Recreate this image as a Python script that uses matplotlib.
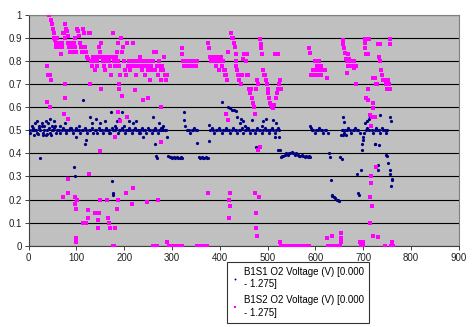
import numpy as np
import matplotlib
matplotlib.use("Agg")
import matplotlib.pyplot as plt

plt.rcParams['font.family'] = ['Liberation Sans', 'DejaVu Sans']

# B1S1 O2 Voltage (V)
b1s1_x = [
    # faixa 0.5 (0-290)
    0, 3, 6, 9, 12, 15, 18, 21, 24, 27,
    30, 33, 36, 39, 42, 45, 48, 51, 54, 57,
    60, 63, 66, 69, 72, 75, 78, 81, 84, 87,
    90, 93, 96, 99, 102, 105, 108, 111, 114, 117,
    120, 123, 126, 129, 132, 135, 138, 141, 144, 147,
    150, 153, 156, 159, 162, 165, 168, 171, 174, 177,
    180, 183, 186, 189, 192, 195, 198, 201, 204, 207,
    210, 213, 216, 219, 222, 225, 228, 231, 234, 237,
    240, 243, 246, 249, 252, 255, 258, 261, 264, 267,
    270, 273, 276, 279, 282, 285, 288,
    # pontos soltos
    8, 12, 14, 18, 20, 22, 24, 28, 30, 32,
    36, 38, 40, 44, 46, 48, 52, 56, 66, 75,
    82, 88, 95, 97, 98, 100, 105, 113, 118, 120,
    128, 132, 140, 150, 160, 168, 172, 174, 176, 177,
    180, 185, 190, 195, 200, 210, 218, 225, 232, 240,
    261, 262, 264, 266, 268, 272, 276, 282, 290,
    # 0.38
    292, 295, 298, 301, 304, 307, 310, 313, 316, 319, 322,
    325, 326, 328, 332, 335, 338, 341, 344, 347, 350, 352, 353,
    356, 359, 362, 365, 368, 371, 374, 376, 378,
    # faixa 0.5 (380-524)
    380, 383, 386, 389, 392, 395, 398, 401, 404, 407,
    410, 413, 416, 419, 422, 425, 428, 431, 434, 437,
    440, 443, 446, 449, 452, 455, 458, 461, 464, 467,
    470, 473, 476, 479, 482, 485, 488, 491, 494, 497,
    500, 503, 506, 509, 512, 515, 518, 521, 524,
    378, 404, 418, 422, 426, 430, 434, 437, 442, 445,
    449, 453, 460, 467, 475, 481, 488, 491, 496, 512,
    515, 518, 522, 524, 526, 528,
    # 0.39 (530-589)
    530, 533, 536, 539, 542, 545, 548, 551, 554, 557,
    560, 563, 566, 569, 572, 575, 578, 581, 584, 587, 589,
    589, 590, 593, 596, 599, 602, 605, 608, 611, 614, 617, 620, 623,
    627, 629, 631, 633, 634, 636, 639, 642, 645, 648, 650, 652, 654, 655,
    # final
    658, 660, 663, 666, 669, 672, 675, 678, 681, 684,
    687, 690, 693, 706, 709, 712, 718, 721, 724, 727,
    730, 733, 736, 739, 742, 745, 748, 751,
    655, 659, 660, 659, 664, 688, 690, 692, 695, 697,
    698, 699, 700, 701, 704, 708, 713, 714, 725, 726,
    728, 732, 732, 734, 735, 749, 750, 753, 756, 756,
    756, 758, 759, 760, 761,
]
b1s1_y = [
    0.50, 0.49, 0.50, 0.51, 0.50, 0.50, 0.49, 0.51, 0.50, 0.52,
    0.49, 0.50, 0.48, 0.50, 0.51, 0.49, 0.50, 0.50, 0.51, 0.49,
    0.50, 0.50, 0.49, 0.50, 0.51, 0.50, 0.49, 0.50, 0.50, 0.51,
    0.50, 0.49, 0.50, 0.51, 0.50, 0.50, 0.49, 0.50, 0.50, 0.51,
    0.50, 0.49, 0.50, 0.50, 0.51, 0.49, 0.50, 0.50, 0.49, 0.51,
    0.50, 0.50, 0.49, 0.50, 0.51, 0.50, 0.50, 0.49, 0.51, 0.50,
    0.50, 0.51, 0.49, 0.50, 0.50, 0.51, 0.50, 0.49, 0.50, 0.50,
    0.51, 0.50, 0.49, 0.50, 0.51, 0.50, 0.50, 0.49, 0.50, 0.51,
    0.50, 0.50, 0.49, 0.51, 0.50, 0.50, 0.49, 0.50, 0.51, 0.50,
    0.49, 0.50, 0.50, 0.51, 0.50, 0.50, 0.50,
    0.52, 0.48, 0.53, 0.54, 0.485, 0.52, 0.38, 0.53, 0.48, 0.52,
    0.54, 0.485, 0.53, 0.55, 0.48, 0.52, 0.54, 0.52, 0.52, 0.53,
    0.55, 0.51, 0.34, 0.30, 0.21, 0.47, 0.52, 0.63, 0.44, 0.46,
    0.56, 0.53, 0.55, 0.53, 0.54, 0.49, 0.58, 0.28, 0.23, 0.22,
    0.52, 0.54, 0.55, 0.58, 0.52, 0.54, 0.53, 0.54, 0.49, 0.47,
    0.56, 0.50, 0.44, 0.39, 0.38, 0.53, 0.51, 0.52, 0.47,
    0.39, 0.385, 0.385, 0.38, 0.385, 0.38, 0.385, 0.38, 0.38, 0.385, 0.38,
    0.58, 0.545, 0.52, 0.50, 0.50, 0.49, 0.50, 0.50, 0.51, 0.50, 0.50, 0.445,
    0.385, 0.38, 0.385, 0.38, 0.38, 0.385, 0.38, 0.38, 0.455,
    0.50, 0.51, 0.50, 0.49, 0.50, 0.50, 0.51, 0.50, 0.49, 0.50,
    0.50, 0.51, 0.50, 0.50, 0.49, 0.50, 0.51, 0.50, 0.50, 0.49,
    0.50, 0.50, 0.51, 0.49, 0.50, 0.50, 0.51, 0.50, 0.49, 0.50,
    0.50, 0.49, 0.50, 0.51, 0.50, 0.50, 0.49, 0.50, 0.51, 0.50,
    0.50, 0.49, 0.50, 0.51, 0.50, 0.49, 0.50, 0.51, 0.50,
    0.525, 0.625, 0.60, 0.595, 0.59, 0.59, 0.585, 0.56, 0.53, 0.55,
    0.54, 0.52, 0.51, 0.545, 0.43, 0.415, 0.52, 0.54, 0.55, 0.545,
    0.47, 0.53, 0.415, 0.47, 0.415, 0.386,
    0.39, 0.39, 0.395, 0.40, 0.395, 0.40, 0.40, 0.405, 0.40, 0.395,
    0.40, 0.395, 0.39, 0.39, 0.395, 0.39, 0.385, 0.39, 0.385, 0.39, 0.385,
    0.52, 0.51, 0.50, 0.50, 0.49, 0.50, 0.50, 0.51, 0.50, 0.50, 0.49, 0.50, 0.50,
    0.487, 0.40, 0.386, 0.285, 0.22, 0.215, 0.21, 0.205, 0.20, 0.20, 0.195, 0.386, 0.48, 0.378,
    0.50, 0.49, 0.50, 0.50, 0.51, 0.50, 0.49, 0.50, 0.50, 0.51,
    0.50, 0.50, 0.49, 0.50, 0.51, 0.50, 0.50, 0.49, 0.50, 0.51,
    0.50, 0.50, 0.49, 0.51, 0.50, 0.50, 0.49, 0.50,
    0.50, 0.56, 0.538, 0.48, 0.48, 0.31, 0.23, 0.22, 0.33, 0.415,
    0.44, 0.46, 0.47, 0.49, 0.53, 0.54, 0.55, 0.56, 0.44, 0.44,
    0.34, 0.35, 0.33, 0.437, 0.566, 0.393, 0.39, 0.357, 0.33, 0.31,
    0.56, 0.54, 0.26, 0.285, 0.29,
]

# B1S2 O2 Voltage (V)
b1s2_x = [
    38, 38, 41, 42, 44, 45, 46, 47, 48, 50,
    52, 54, 56, 58, 58, 60,
    62, 64, 66, 67, 69, 70, 72, 74, 75, 76,
    78, 80, 82, 83, 85, 86, 88, 90, 92, 94,
    96, 98, 100, 102, 104, 106, 108, 110, 112, 114,
    116, 118, 120, 122, 124, 126, 128, 130, 132, 134,
    136, 138, 140,
    72, 73, 76, 76, 82, 83, 83, 97, 97, 99,
    99, 100, 102, 114, 120, 124, 125, 127, 128, 139,
    142, 144, 146, 148, 150, 152, 154, 156, 158, 160,
    162, 164, 166, 168, 170, 172, 174, 176, 178, 180,
    182, 184, 186, 188, 190, 192, 194, 196, 198, 200,
    202, 204, 206, 208, 210, 212, 214, 216, 218, 220,
    222, 224, 226, 228, 230, 232, 234, 236, 238, 240,
    242, 244, 246, 248, 250, 252, 254, 256, 258, 260,
    262, 264, 266, 268, 270, 272, 274, 276, 278, 280,
    282, 284, 286, 288, 290,
    146, 146, 148, 149, 150, 151, 163, 166, 168, 170,
    176, 179, 181, 181, 184, 186, 188, 190, 190, 192,
    196, 204, 206, 216, 219, 222, 240, 248, 250, 261,
    264, 268, 270, 278, 278,
    290, 293, 296, 299, 302, 305, 308, 311, 314, 317,
    320, 353, 356, 359, 362, 365, 368, 371, 374, 376,
    320, 322, 324, 326, 328, 330, 332, 334, 336, 338,
    340, 342, 344, 346, 348, 350, 352,
    376, 378, 380, 382, 384, 386, 388, 390, 392, 394,
    396, 398, 400, 402, 404, 406, 408, 410, 412, 414,
    414, 416, 418, 418, 420, 420, 421, 421, 424, 426,
    428, 430, 432, 434, 434, 435, 436, 438, 440, 442,
    444, 446, 448, 450, 452, 454, 456, 458, 460, 462,
    464, 466, 468, 470, 472, 474, 476, 478, 480, 484,
    486, 487, 488, 490, 492, 494, 496, 498, 500, 502,
    504, 506, 508, 510, 512, 514, 516, 518, 520, 521,
    522, 524, 526, 528,
    473, 475, 476, 477, 481, 482, 484,
    526, 529, 532, 535, 538, 541, 544, 547, 550, 553,
    556, 559, 562, 565, 568, 571, 574, 577, 580, 583,
    586,
    587, 588, 592, 596, 599, 600, 602, 603, 604, 606,
    607, 608, 609, 612, 613, 613, 617, 620, 624,
    625, 627, 630, 633, 634, 636, 639, 642, 645, 648,
    651, 653, 653, 653,
    657, 659, 660, 662, 664, 666, 666, 668, 669, 670,
    672, 674, 676, 678, 680, 682, 685, 686, 693, 696,
    700, 700, 704, 704, 705, 706, 706, 708, 711, 711,
    711, 713, 714, 714, 714, 716, 716, 716, 718, 718,
    720, 720, 721, 721, 724, 725, 727, 728, 730, 731,
    732, 733, 735, 735, 737, 739, 742, 745, 746, 748,
    750, 753, 754, 756, 756, 757, 758, 760, 762,
]
b1s2_y = [
    0.78, 0.625, 0.74, 1.00, 0.74, 0.60, 0.98, 0.72, 0.96, 0.94,
    0.92, 0.90, 0.89, 0.86, 0.88, 0.90,
    0.88, 0.86, 0.88, 0.83, 0.86, 0.88, 0.92, 0.92, 0.90, 0.96,
    0.94, 0.93, 0.91, 0.88, 0.86, 0.84, 0.88, 0.86, 0.84, 0.88,
    0.90, 0.86, 0.84, 0.94, 0.93, 0.91, 0.88, 0.86, 0.84, 0.94,
    0.92, 0.86, 0.84, 0.82, 0.81, 0.92, 0.92, 0.80, 0.78, 0.82,
    0.80, 0.76, 0.82,
    0.21, 0.57, 0.70, 0.64, 0.29, 0.23, 0.55, 0.21, 0.18, 0.16,
    0.035, 0.015, 0.20, 0.10, 0.10, 0.12, 0.155, 0.31, 0.70, 0.14,
    0.80, 0.78, 0.82, 0.86, 0.84, 0.88, 0.82, 0.80, 0.78, 0.76,
    0.82, 0.80, 0.82, 0.80, 0.78, 0.74, 0.82, 0.92, 0.80, 0.78,
    0.82, 0.84, 0.88, 0.80, 0.78, 0.74, 0.90, 0.84, 0.86, 0.80,
    0.76, 0.74, 0.88, 0.78, 0.80, 0.76, 0.78, 0.80, 0.88, 0.80,
    0.78, 0.74, 0.80, 0.78, 0.80, 0.78, 0.82, 0.80, 0.76, 0.78,
    0.80, 0.74, 0.80, 0.78, 0.76, 0.80, 0.72, 0.78, 0.76, 0.80,
    0.84, 0.76, 0.84, 0.78, 0.74, 0.80, 0.78, 0.76, 0.72, 0.78,
    0.76, 0.82, 0.74, 0.72, 0.74,
    0.11, 0.075, 0.14, 0.20, 0.41, 0.68, 0.20, 0.12, 0.10, 0.075,
    0.0, 0.0, 0.075, 0.47, 0.16, 0.20, 0.58, 0.70, 0.68, 0.54,
    0.65, 0.23, 0.56, 0.18, 0.25, 0.675, 0.63, 0.19, 0.64, 0.0,
    0.0, 0.0, 0.20, 0.60, 0.45,
    0.015, 0.0, 0.0, 0.0, 0.0, 0.0, 0.0, 0.0, 0.0, 0.0,
    0.0, 0.0, 0.0, 0.0, 0.0, 0.0, 0.0, 0.0, 0.0, 0.23,
    0.855, 0.83, 0.80, 0.78, 0.80, 0.78, 0.80, 0.78, 0.80, 0.78,
    0.80, 0.78, 0.80, 0.78, 0.80, 0.78, 0.80,
    0.88, 0.855, 0.82, 0.80, 0.82, 0.80, 0.82, 0.80, 0.78, 0.82,
    0.80, 0.76, 0.80, 0.82, 0.78, 0.80, 0.76, 0.74, 0.76, 0.74,
    0.57, 0.72, 0.84, 0.545, 0.20, 0.12, 0.23, 0.17, 0.92, 0.90,
    0.90, 0.88, 0.86, 0.83, 0.80, 0.78, 0.76, 0.74, 0.72, 0.74,
    0.70, 0.74, 0.81, 0.83, 0.83, 0.80, 0.83, 0.74, 0.74, 0.68,
    0.66, 0.68, 0.64, 0.62, 0.60, 0.57, 0.68, 0.72, 0.70, 0.895,
    0.875, 0.855, 0.83, 0.76, 0.74, 0.74, 0.72, 0.70, 0.68, 0.66,
    0.64, 0.62, 0.61, 0.60, 0.595, 0.61, 0.83, 0.64, 0.66, 0.83,
    0.68, 0.70, 0.72, 0.68,
    0.23, 0.14, 0.075, 0.04, 0.415, 0.21, 0.43,
    0.017, 0.0, 0.0, 0.0, 0.0, 0.0, 0.0, 0.0, 0.0, 0.0,
    0.0, 0.0, 0.0, 0.0, 0.0, 0.0, 0.0, 0.0, 0.0, 0.0,
    0.0,
    0.855, 0.835, 0.74, 0.76, 0.80, 0.74, 0.76, 0.80, 0.78, 0.74,
    0.80, 0.76, 0.78, 0.74, 0.76, 0.78, 0.76, 0.76, 0.725,
    0.035, 0.0, 0.0, 0.0, 0.04, 0.0, 0.0, 0.0, 0.0, 0.0,
    0.0, 0.055, 0.035, 0.017,
    0.89, 0.875, 0.855, 0.835, 0.81, 0.80, 0.75, 0.83, 0.78, 0.81,
    0.80, 0.78, 0.80, 0.78, 0.80, 0.77, 0.70, 0.78, 0.017, 0.0,
    0.017, 0.0, 0.895, 0.88, 0.855, 0.83, 0.64, 0.895, 0.83, 0.68,
    0.63, 0.895, 0.565, 0.21, 0.10, 0.52, 0.30, 0.27, 0.56, 0.17,
    0.725, 0.62, 0.595, 0.04, 0.725, 0.56, 0.70, 0.34, 0.70, 0.036,
    0.875, 0.82, 0.875, 0.80, 0.76, 0.74, 0.72, 0.72, 0.0, 0.70,
    0.68, 0.72, 0.70, 0.68, 0.895, 0.875, 0.0, 0.017, 0.0,
]

x_ticks = [0, 100, 200, 300, 400, 500, 600, 700, 800, 900]
y_ticks = [0, 0.1, 0.2, 0.3, 0.4, 0.5, 0.6, 0.7, 0.8, 0.9, 1]
y_labels = ["0", "0.1", "0.2", "0.3", "0.4", "0.5", "0.6", "0.7", "0.8", "0.9", "1"]

label1 = "B1S1 O2 Voltage (V) [0.000\n- 1.275]"
label2 = "B1S2 O2 Voltage (V) [0.000\n- 1.275]"

assert len(b1s1_x) == len(b1s1_y)
assert len(b1s2_x) == len(b1s2_y)

fig = plt.figure(figsize=(4.74, 3.27), dpi=100)
ax = fig.add_axes([0.0605, 0.2486, 0.907, 0.7055])
ax.set_facecolor("#c0c0c0")

ax.plot(b1s1_x, b1s1_y, linestyle="none", marker="o", markersize=2.3,
        color="#000080", markeredgewidth=0, label=label1, zorder=3)
ax.plot(b1s2_x, b1s2_y, linestyle="none", marker="s", markersize=2.4,
        color="#ff00ff", markeredgewidth=0, label=label2, zorder=4)

ax.set_xlim(0, 900)
ax.set_ylim(0, 1)
ax.set_xticks(x_ticks)
ax.set_yticks(y_ticks)
ax.set_yticklabels(y_labels)
ax.yaxis.grid(True, color="black", linewidth=0.8)
ax.set_axisbelow(True)

for side in ["top", "right"]:
    ax.spines[side].set_color("#808080")
    ax.spines[side].set_linewidth(0.8)
for side in ["left", "bottom"]:
    ax.spines[side].set_color("#404040")
    ax.spines[side].set_linewidth(0.8)

ax.tick_params(axis="both", labelsize=7, colors="#222222", length=3,
               width=0.6, direction="out", pad=2)

leg = fig.legend(loc="upper left", bbox_to_anchor=(0.478, 0.2),
                 fontsize=7, frameon=True, fancybox=False, edgecolor="black",
                 handlelength=0.6, handletextpad=0.6, borderpad=0.55,
                 labelspacing=0.6, markerscale=0.6, borderaxespad=0)
leg.get_frame().set_linewidth(0.8)
for t in leg.get_texts():
    t.set_linespacing(1.3)

plt.savefig("out.png", dpi=100)
